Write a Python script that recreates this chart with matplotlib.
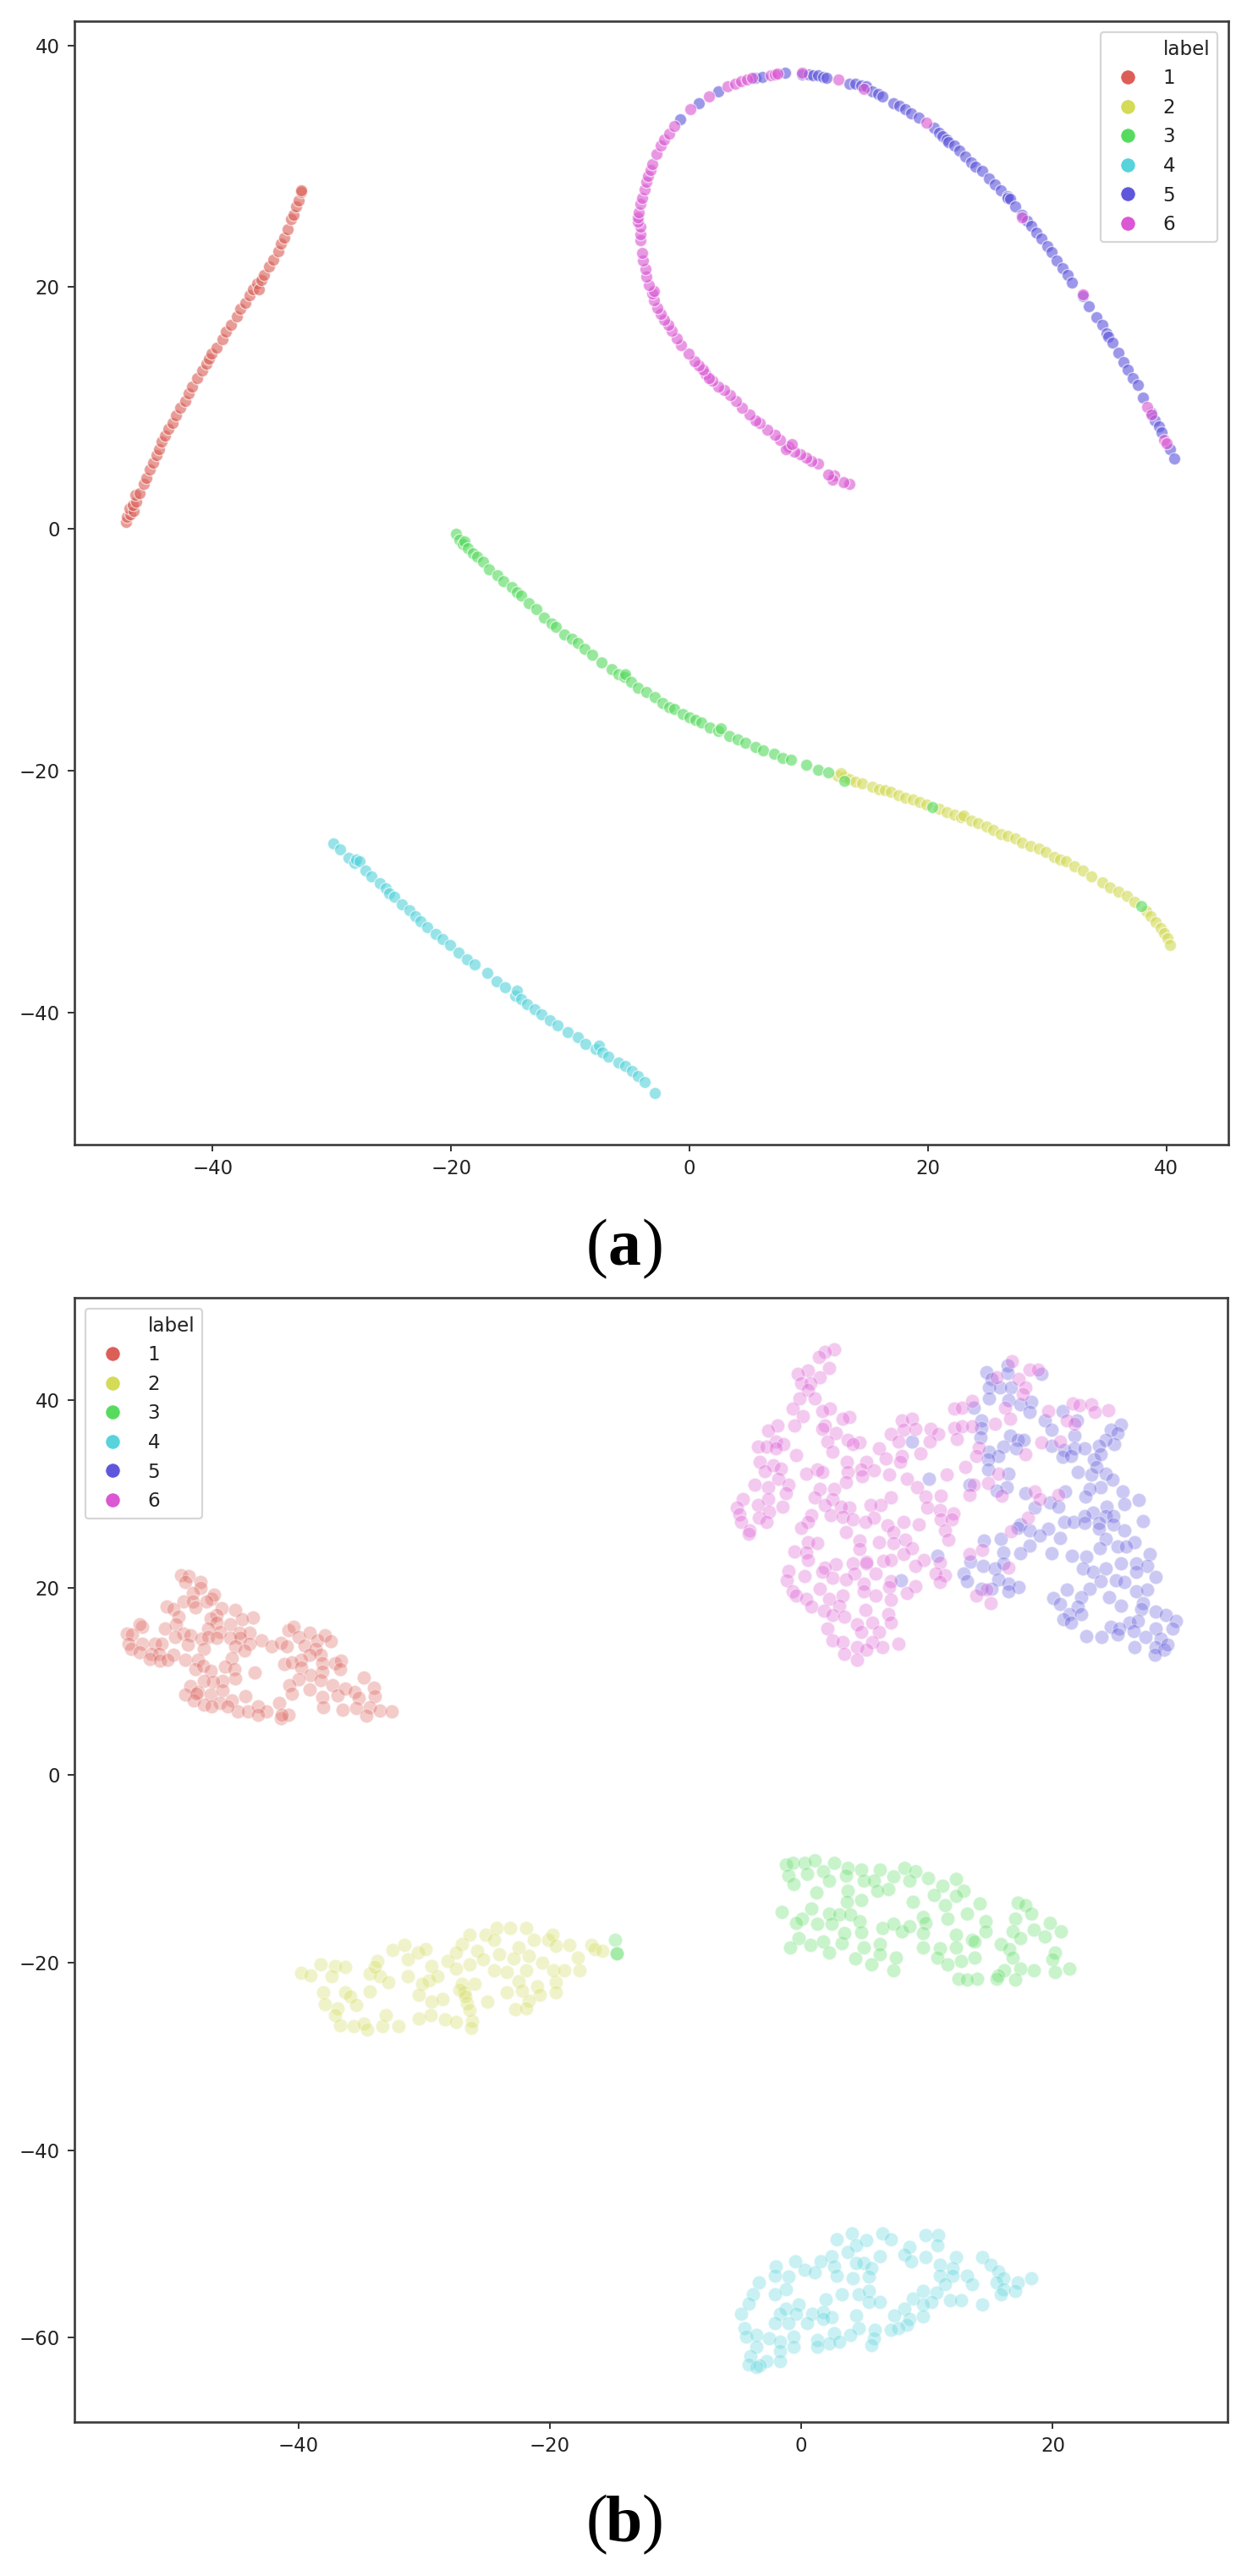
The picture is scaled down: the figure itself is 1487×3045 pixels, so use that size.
# t-SNE scatter panels
import matplotlib
matplotlib.use("Agg")
import matplotlib.pyplot as plt
from matplotlib.lines import Line2D
import numpy as np

labels = ["1", "2", "3", "4", "5", "6"]
colors = ["#db5f57", "#d3db57", "#57db5f", "#57d3db", "#5f57db", "#db57d3"]

# panel (a)
a1 = [(-47.3,0.6),(-47.2,1.0),(-46.9,1.2),(-47.0,1.7),(-46.6,1.5),(-46.7,2.0),(-46.4,2.3),(-46.5,2.8),(-46.1,3.0),
      (-45.8,3.7),(-45.6,4.2),(-45.3,4.9),(-45.0,5.5),(-44.7,6.1),(-44.5,6.6),(-44.3,7.2),(-44.0,7.7),(-43.7,8.3),
      (-43.4,8.8),(-43.1,9.4),(-42.7,10.0),(-42.3,10.6),(-42.0,11.2),(-41.7,11.8),(-41.3,12.5),(-40.9,13.1),
      (-40.5,13.7),(-40.3,14.1),(-40.1,14.5),(-39.7,15.0),(-39.2,15.7),(-38.9,16.3),(-38.5,16.9),(-38.0,17.6),
      (-37.7,18.2),(-37.3,18.7),(-36.9,19.3),(-36.6,19.8),(-36.3,20.3),(-36.1,19.8),(-35.9,20.6),(-35.7,21.0),
      (-35.3,21.7),(-34.9,22.3),(-34.5,23.0),(-34.3,23.6),(-34.0,24.1),(-33.7,24.8),(-33.4,25.6),(-33.2,26.0),
      (-33.0,26.7),(-32.8,27.2),(-32.6,27.9),(-32.6,28.0)]
a2 = [(12.4,-20.4),(13.0,-20.5),(12.7,-20.2),(13.4,-20.7),(13.9,-20.9),(14.5,-21.0),(15.3,-21.3),(15.9,-21.5),
      (16.4,-21.6),(16.9,-21.75),(17.5,-22.0),(18.1,-22.2),(18.7,-22.35),(19.3,-22.6),(19.9,-22.8),(20.9,-23.1),
      (21.6,-23.4),(22.2,-23.6),(22.8,-23.8),(23.0,-23.7),(23.6,-24.1),(24.2,-24.3),(24.9,-24.6),(25.5,-24.9),
      (26.1,-25.2),(26.7,-25.4),(27.3,-25.6),(27.9,-25.9),(28.6,-26.2),(29.3,-26.45),(29.9,-26.7),(30.6,-27.1),
      (31.1,-27.3),(31.6,-27.5),(32.3,-27.9),(33.0,-28.25),(33.7,-28.7),(34.6,-29.2),(35.3,-29.6),(36.0,-30.0),
      (36.7,-30.3),(37.3,-30.8),(38.3,-31.6),(38.7,-32.0),(39.1,-32.5),(39.5,-33.0),(39.8,-33.4),(40.1,-33.8),(40.3,-34.4)]
a3 = [(-19.6,-0.4),(-19.3,-0.9),(-19.0,-1.26),(-18.9,-1.0),(-18.6,-1.6),(-18.2,-2.0),(-17.8,-2.3),(-17.35,-2.7),
      (-16.8,-3.3),(-16.1,-3.8),(-15.6,-4.3),(-14.9,-4.8),(-14.5,-5.2),(-14.1,-5.5),(-13.5,-6.1),(-12.85,-6.6),
      (-12.2,-7.3),(-11.6,-7.8),(-11.2,-8.1),(-10.5,-8.7),(-9.9,-9.1),(-9.4,-9.45),(-8.8,-9.9),(-8.2,-10.4),
      (-7.4,-11.0),(-6.5,-11.6),(-6.0,-12.0),(-5.5,-12.2),(-5.4,-12.0),(-4.9,-12.6),(-4.3,-13.1),(-3.6,-13.5),
      (-2.95,-13.9),(-2.3,-14.4),(-1.7,-14.7),(-1.25,-14.9),(-0.6,-15.3),(0.0,-15.6),(0.5,-15.8),(1.0,-16.0),
      (1.7,-16.4),(2.4,-16.7),(2.6,-16.5),(3.3,-17.1),(4.05,-17.4),(4.7,-17.7),(5.5,-18.0),(6.2,-18.3),(7.1,-18.6),
      (7.8,-18.9),(8.5,-19.1),(9.8,-19.5),(10.8,-19.9),(11.6,-20.1),(13.0,-20.8),(20.35,-23.0),(37.9,-31.2)]
a4 = [(-29.85,-26.0),(-29.3,-26.5),(-28.6,-27.2),(-28.1,-27.6),(-28.0,-27.3),(-27.7,-27.5),(-27.2,-28.2),(-26.7,-28.7),
      (-26.0,-29.3),(-25.5,-29.7),(-25.2,-30.1),(-24.8,-30.4),(-24.15,-31.0),(-23.5,-31.55),(-23.0,-32.0),(-22.6,-32.4),
      (-22.0,-32.9),(-21.3,-33.5),(-20.7,-33.9),(-20.1,-34.4),(-19.4,-35.0),(-18.7,-35.6),(-18.0,-36.0),(-17.0,-36.7),
      (-16.2,-37.4),(-15.5,-37.9),(-14.65,-38.6),(-14.5,-38.2),(-14.1,-38.9),(-13.6,-39.3),(-13.0,-39.7),(-12.4,-40.1),
      (-11.7,-40.6),(-11.1,-41.05),(-10.25,-41.6),(-9.4,-42.05),(-8.7,-42.6),(-7.9,-43.0),(-7.6,-42.7),(-7.3,-43.3),
      (-6.8,-43.6),(-6.0,-44.1),(-5.4,-44.4),(-4.8,-44.8),(-4.3,-45.2),(-3.75,-45.7),(-2.95,-46.65)]
a5 = [(0.75,35.2),(-0.8,33.9),(2.4,36.2),(5.5,37.3),(6.1,37.4),(8.0,37.7),(9.4,37.6),(10.0,37.6),(10.35,37.55),(10.8,37.5),
      (11.2,37.4),(11.5,37.3),(13.4,36.85),(13.9,36.8),(14.4,36.7),(14.8,36.6),(15.3,36.2),(15.8,36.0),(16.2,35.8),
      (17.1,35.2),(17.6,35.0),(18.1,34.7),(18.6,34.4),(19.2,34.0),(20.5,33.2),(20.9,32.8),(21.2,32.5),(21.6,32.2),
      (21.7,32.0),(22.2,31.7),(22.65,31.3),(23.1,30.8),(23.6,30.3),(24.0,30.0),(24.55,29.6),(25.1,29.0),(25.6,28.5),
      (26.1,28.0),(26.7,27.5),(26.7,27.4),(26.9,27.3),(27.3,26.7),(27.9,26.0),(28.3,25.5),(28.7,25.1),(29.1,24.5),
      (29.5,24.0),(30.0,23.4),(30.35,22.9),(30.8,22.2),(31.3,21.6),(31.7,21.0),(32.1,20.4),(33.0,19.25),(33.5,18.4),
      (34.1,17.5),(34.6,16.9),(35.0,16.2),(35.1,15.9),(35.5,15.4),(36.0,14.6),(36.4,13.8),(36.75,13.2),(37.2,12.5),
      (37.6,11.9),(38.05,10.85),(38.75,9.6),(39.0,9.0),(39.35,8.5),(39.6,8.0),(40.3,6.6),(40.65,5.8)]
a6 = [(13.4,3.7),(12.9,3.9),(12.1,4.4),(12.0,4.1),(11.6,4.5),(10.8,5.4),(10.2,5.6),(9.8,5.9),(9.3,6.2),(8.8,6.4),(8.3,6.8),
      (8.1,6.6),(8.6,7.0),(7.6,7.4),(7.15,7.8),(6.5,8.2),(5.9,8.8),(5.5,9.0),(5.0,9.5),(4.4,10.0),(3.9,10.6),(3.4,11.1),
      (2.9,11.5),(2.4,11.8),(1.9,12.3),(1.35,12.8),(1.6,12.5),(1.1,13.2),(0.8,13.5),(0.4,13.9),(-0.1,14.5),(-0.7,15.2),
      (-1.1,15.8),(-1.5,16.4),(-1.8,16.9),(-2.1,17.3),(-2.4,17.8),(-2.7,18.3),(-3.0,18.9),(-3.15,19.5),(-3.0,19.7),
      (-3.4,20.2),(-3.6,20.9),(-3.7,21.5),(-3.9,22.2),(-3.95,22.8),(-4.1,23.9),(-4.15,24.4),(-4.1,25.0),(-4.3,25.4),
      (-4.3,25.8),(-4.25,26.2),(-4.1,26.9),(-4.0,27.4),(-3.8,28.1),(-3.65,28.7),(-3.5,29.2),(-3.3,29.7),(-3.15,30.2),
      (-2.8,31.0),(-2.4,31.7),(-2.1,32.2),(-1.7,32.7),(-1.3,33.3),(0.05,34.7),(1.6,35.8),(3.2,36.6),(3.8,36.8),(4.3,37.0),
      (4.8,37.2),(5.25,37.3),(6.8,37.5),(7.15,37.6),(7.4,37.65),(9.4,37.7),(12.5,37.2),(14.6,36.4),(19.9,33.6),(33.0,19.4),
      (27.9,25.8),(38.4,10.1),(38.75,9.5),(39.8,7.4),(40.0,7.1)]

# panel (b)
b1 = [(-49.3,21.3),(-48.7,21.25),(-48.96,20.6),(-47.8,20.6),(-47.8,20.0),(-48.4,19.4),(-49.1,18.5),(-48.4,18.5),(-48.2,17.9),
      (-46.9,18.8),(-46.7,19.2),(-47.3,18.5),(-50.5,18.0),(-49.9,17.7),(-49.5,16.9),(-46.1,17.8),(-45.0,17.6),(-43.6,16.8),
      (-44.5,16.6),(-46.5,17.1),(-47.0,16.7),(-46.5,16.3),(-45.4,16.1),(-49.7,16.1),(-52.4,15.8),(-52.6,16.1),(-50.6,15.6),
      (-47.2,15.6),(-46.2,15.3),(-53.6,15.1),(-53.2,15.0),(-49.1,15.1),(-49.8,14.7),(-48.6,14.9),(-44.7,15.2),(-43.9,15.2),
      (-45.4,14.6),(-47.7,14.5),(-47.2,14.7),(-46.5,14.6),(-44.6,14.6),(-53.5,14.0),(-53.3,13.5),(-52.4,14.0),(-51.4,14.0),
      (-50.9,14.0),(-48.8,13.9),(-43.9,14.0),(-47.5,13.5),(-45.0,13.7),(-44.3,13.3),(-52.6,13.1),(-51.7,12.9),(-51.1,12.9),
      (-49.9,12.8),(-49.0,12.3),(-51.8,12.4),(-51.0,12.2),(-50.4,12.3),(-45.3,12.5),(-48.0,12.3),(-42.9,14.4),(-42.1,13.7),
      (-41.4,14.1),(-40.8,15.4),(-40.4,15.8),(-40.0,14.7),(-40.9,13.7),(-39.5,13.8),(-39.1,15.2),(-38.5,14.4),(-37.9,14.9),
      (-37.4,14.3),(-38.6,13.5),(-38.2,12.8),(-39.1,12.8),(-39.8,12.3),(-41.1,11.8),(-40.5,12.0),(-39.8,11.5),(-38.1,11.9),
      (-37.1,11.9),(-36.6,12.2),(-36.7,11.3),(-38.1,11.0),(-39.0,10.7),(-40.0,10.2),(-40.7,9.6),(-40.5,8.7),(-39.1,9.1),
      (-38.2,10.1),(-37.3,9.6),(-38.1,8.3),(-38.0,7.2),(-36.9,8.5),(-36.5,7.0),(-36.3,9.2),(-35.5,8.9),(-34.8,10.4),(-34.0,9.3),
      (-35.2,8.25),(-33.9,8.4),(-35.4,7.1),(-34.3,7.2),(-34.6,6.3),(-33.5,6.9),(-32.6,6.75),(-48.2,11.3),(-47.6,11.7),(-47.0,11.1),
      (-45.8,11.6),(-45.1,11.3),(-45.0,10.3),(-43.5,10.9),(-46.0,10.05),(-46.8,9.9),(-47.5,10.05),(-48.6,9.45),(-48.0,8.9),
      (-49.0,8.55),(-48.3,8.0),(-47.0,8.55),(-46.0,9.0),(-47.5,7.5),(-46.2,7.7),(-45.3,8.0),(-44.2,8.4),(-44.8,6.75),(-44.0,6.75),
      (-43.2,7.3),(-42.5,6.8),(-41.5,7.65),(-43.2,6.45),(-41.4,6.1),(-40.8,6.45),(-46.9,7.35),(-45.6,7.35),(-48.1,8.7),(-41.3,6.4)]
b2 = [(-39.8,-21.1),(-39.05,-21.35),(-38.2,-20.2),(-37.1,-20.4),(-36.25,-20.5),(-37.35,-21.5),(-34.3,-21.15),(-33.7,-19.85),
      (-33.5,-21.5),(-32.85,-22.1),(-32.5,-18.7),(-31.55,-18.1),(-31.3,-19.65),(-31.3,-21.5),(-38.0,-23.2),(-36.25,-23.2),
      (-34.35,-23.1),(-35.85,-23.6),(-37.9,-24.45),(-36.9,-24.9),(-35.4,-24.5),(-37.1,-25.65),(-36.7,-26.7),(-35.6,-26.8),
      (-34.8,-26.5),(-34.5,-27.15),(-33.3,-26.8),(-33.05,-25.65),(-32.05,-26.8),(-30.5,-18.9),(-29.85,-18.55),(-29.4,-20.4),
      (-28.1,-19.85),(-27.0,-18.0),(-26.4,-17.0),(-25.1,-17.05),(-24.25,-16.3),(-23.15,-16.35),(-21.9,-16.35),(-27.45,-18.9),
      (-25.75,-18.75),(-24.45,-17.6),(-21.25,-17.6),(-20.15,-17.6),(-19.8,-17.05),(-22.5,-18.35),(-24.0,-19.1),(-25.3,-19.65),
      (-26.4,-20.2),(-27.45,-20.6),(-29.6,-21.9),(-28.95,-21.5),(-30.15,-22.3),(-30.45,-23.4),(-29.4,-24.2),(-28.55,-23.85),
      (-27.0,-22.3),(-25.95,-22.3),(-26.8,-23.2),(-26.6,-24.3),(-25.0,-24.15),(-30.45,-26.0),(-29.5,-25.65),(-28.3,-26.1),
      (-27.45,-26.3),(-26.15,-26.2),(-26.25,-26.95),(-26.4,-25.1),(-24.45,-20.8),(-23.4,-21.0),(-21.9,-20.8),(-22.5,-22.0),
      (-23.4,-23.15),(-22.2,-23.0),(-21.0,-22.5),(-19.5,-22.1),(-19.75,-20.8),(-18.85,-20.8),(-17.65,-20.8),(-20.6,-20.0),
      (-19.5,-18.25),(-18.45,-18.15),(-17.8,-19.5),(-16.7,-18.15),(-16.4,-18.55),(-15.85,-18.75),(-19.5,-23.2),(-20.8,-23.4),
      (-21.65,-24.1),(-22.75,-25.0),(-21.9,-24.9),(-27.2,-22.9),(-26.7,-23.6),(-22.9,-19.6),(-21.7,-19.3),(-33.9,-20.5)]
b3 = [(-1.25,-9.55),(-0.65,-9.35),(0.25,-9.35),(1.1,-9.1),(2.6,-9.35),(-1.05,-10.7),(0.45,-10.5),(1.75,-10.3),(-0.6,-11.6),
      (2.2,-11.25),(3.7,-9.95),(4.75,-10.1),(3.55,-10.7),(5.0,-11.25),(6.25,-10.1),(5.8,-11.25),(7.35,-10.85),(8.2,-9.95),
      (9.05,-10.3),(8.6,-11.25),(10.1,-11.0),(12.3,-11.05),(12.9,-12.35),(11.2,-11.8),(6.9,-12.2),(6.05,-12.35),(3.7,-12.35),
      (1.2,-12.55),(4.75,-13.3),(3.6,-13.5),(8.85,-13.5),(10.55,-12.75),(12.3,-12.9),(11.45,-13.85),(14.2,-13.7),(17.2,-13.6),
      (17.85,-13.85),(-1.55,-14.6),(0.8,-14.25),(2.2,-14.8),(3.05,-14.9),(3.9,-14.9),(0.05,-15.35),(-0.4,-15.75),(1.25,-15.85),
      (2.4,-15.9),(4.65,-15.55),(9.7,-15.15),(11.65,-15.35),(13.15,-14.8),(14.65,-15.55),(17.0,-15.35),(18.3,-14.8),(19.8,-15.75),
      (-0.2,-17.4),(-0.85,-18.35),(0.7,-18.15),(1.75,-17.8),(2.2,-18.9),(3.25,-17.9),(3.45,-16.85),(4.75,-16.75),(6.25,-18.0),
      (6.45,-16.3),(7.35,-15.9),(7.97,-16.65),(8.6,-16.1),(9.9,-15.75),(9.7,-16.85),(12.3,-17.05),(13.55,-17.6),(14.65,-16.65),
      (16.8,-16.65),(18.5,-16.5),(20.65,-16.65),(15.9,-18.0),(17.4,-17.4),(19.35,-17.25),(5.0,-18.35),(6.25,-19.1),(9.7,-18.35),
      (11.0,-18.45),(12.3,-18.35),(13.8,-17.8),(16.55,-18.55),(20.2,-18.9),(4.3,-19.6),(5.6,-20.2),(7.35,-20.8),(7.55,-19.5),
      (10.8,-19.5),(11.65,-20.2),(12.7,-19.85),(13.8,-19.5),(16.8,-19.5),(20.0,-19.65),(21.3,-20.6),(20.2,-21.0),(18.5,-20.8),
      (17.4,-20.6),(16.15,-20.8),(15.7,-21.35),(17.0,-21.85),(15.5,-21.7),(12.5,-21.7),(14.0,-21.7),(13.15,-21.85),(-14.8,-17.6),
      (-14.7,-19.0),(-14.7,-19.0)]
b4 = [(4.05,-48.85),(2.8,-49.5),(6.45,-48.85),(7.1,-49.5),(9.9,-49.05),(10.9,-49.05),(5.2,-49.6),(10.8,-50.15),(4.35,-50.15),
      (3.7,-50.9),(6.25,-51.3),(8.6,-50.35),(8.2,-51.1),(4.95,-52.0),(2.4,-51.3),(1.55,-51.85),(-0.5,-51.85),(-2.0,-52.4),(0.25,-52.8),
      (2.6,-52.4),(4.35,-52.0),(5.6,-52.6),(8.75,-51.9),(9.9,-51.45),(12.3,-51.45),(14.4,-51.45),(11.0,-52.2),(12.05,-52.6),
      (15.05,-52.2),(15.7,-52.95),(18.3,-53.7),(17.2,-54.1),(13.15,-53.35),(11.0,-53.35),(12.05,-53.35),(16.1,-53.7),(15.5,-54.1),
      (16.1,-54.85),(17.0,-55.0),(15.9,-55.4),(13.55,-54.25),(11.4,-54.25),(1.1,-53.0),(2.85,-53.35),(4.1,-53.7),(5.4,-53.5),
      (-1.05,-53.5),(-2.1,-53.35),(-3.4,-54.1),(-1.25,-54.85),(-2.1,-55.4),(-3.85,-55.4),(3.25,-55.4),(4.55,-55.4),(5.4,-55.0),
      (5.4,-56.15),(6.25,-56.15),(1.95,-55.95),(8.85,-55.8),(9.7,-55.0),(10.75,-55.2),(10.35,-56.15),(9.7,-56.5),(11.85,-56.0),
      (12.7,-56.0),(14.4,-56.5),(8.2,-56.9),(-4.8,-57.45),(-4.15,-56.35),(-1.25,-56.9),(-0.2,-56.5),(-0.4,-57.45),(-1.7,-57.45),
      (0.9,-57.45),(1.75,-57.25),(2.4,-57.85),(4.35,-57.65),(7.4,-57.65),(-2.1,-58.4),(-1.05,-58.4),(0.45,-58.4),(1.75,-58.0),
      (8.6,-58.0),(9.7,-57.75),(8.4,-58.6),(7.75,-59.0),(4.55,-59.0),(5.85,-59.15),(7.1,-59.15),(-4.5,-58.95),(2.6,-59.5),(3.9,-59.7),
      (5.75,-60.1),(-4.4,-59.9),(-3.6,-59.7),(-2.55,-60.1),(-1.7,-60.45),(-0.6,-59.9),(1.3,-60.25),(2.2,-60.65),(3.05,-60.45),
      (5.6,-60.8),(1.3,-61.0),(-3.6,-61.0),(-1.7,-61.4),(-0.6,-61.0),(-4.05,-62.0),(-2.75,-62.5),(-1.7,-62.5),(-4.15,-62.9),
      (-3.3,-63.0),(-3.6,-63.1)]
b5 = [(16.4,43.7),(14.7,43.0),(16.4,42.9),(15.1,42.2),(14.95,41.3),(15.8,41.3),(16.65,41.3),(19.1,42.8),(14.9,40.2),(16.5,40.0),
      (17.45,39.5),(18.3,39.8),(18.15,38.75),(13.75,39.2),(14.3,37.8),(14.3,37.0),(14.25,36.05),(20.75,38.85),(19.4,37.8),(19.9,36.85),
      (21.95,37.8),(25.4,37.4),(24.6,36.85),(25.15,36.5),(24.9,35.3),(21.7,36.2),(19.9,35.1),(16.6,36.2),(17.2,35.75),(17.7,35.75),
      (8.8,35.6),(24.2,35.7),(23.65,35.1),(16.1,35.0),(14.95,34.5),(15.65,34.0),(17.05,34.8),(14.85,33.7),(20.9,34.65),(21.7,34.8),
      (22.55,34.8),(20.75,33.9),(23.25,33.7),(23.8,34.2),(21.45,34.0),(14.85,32.6),(16.5,32.1),(22.0,32.3),(23.1,32.0),(23.5,32.9),
      (24.2,32.1),(24.75,31.5),(10.15,31.6),(13.35,31.0),(16.35,30.7),(15.5,30.35),(17.85,30.1),(21.0,30.2),(23.8,30.7),(22.95,30.5),
      (22.6,29.7),(25.55,30.2),(19.8,29.1),(18.55,28.5),(20.45,28.6),(26.85,29.35),(25.7,28.9),(24.3,28.6),(23.2,28.0),(24.2,27.65),
      (22.55,27.65),(24.85,27.65),(20.9,27.0),(21.65,27.0),(22.5,26.9),(23.7,26.9),(24.8,26.7),(27.15,27.1),(17.45,26.7),(17.2,26.4),
      (19.65,26.25),(18.15,26.1),(18.95,25.55),(23.65,26.25),(25.7,26.1),(24.2,25.15),(15.9,25.15),(14.55,25.05),(20.6,25.3),(26.5,24.8),
      (25.15,24.35),(25.85,24.35),(23.75,24.2),(18.15,24.5),(17.45,23.65),(19.9,23.65),(27.7,23.55),(10.85,23.4),(21.55,23.35),(22.65,23.25),
      (16.1,23.7),(13.45,22.75),(14.45,22.3),(26.65,22.6),(25.4,22.6),(15.4,22.0),(16.1,22.6),(22.4,22.0),(23.2,21.65),(24.2,22.0),
      (27.5,22.3),(12.9,21.5),(26.65,21.65),(28.15,21.1),(7.95,20.8),(13.2,20.7),(15.65,20.85),(25.0,20.8),(23.8,20.7),(16.5,20.4),
      (25.7,20.6),(22.95,19.9),(14.3,19.9),(15.1,19.85),(17.3,20.05),(16.5,19.6),(26.65,19.6),(27.5,19.75),(21.15,19.75),(20.05,18.9),
      (22.25,18.95),(24.45,18.95),(20.6,18.2),(22.0,18.0),(27.2,18.3),(25.4,18.1),(21.3,17.2),(27.05,17.7),(28.15,17.45),(22.25,17.2),
      (20.85,16.6),(21.45,16.3),(29.0,17.05),(29.8,16.4),(26.1,16.25),(26.8,16.4),(24.6,15.8),(25.3,15.65),(28.15,15.65),(29.55,15.65),
      (26.4,15.35),(25.15,15.0),(27.35,14.7),(22.65,14.85),(23.9,14.7),(28.6,14.5),(26.5,13.65),(28.15,13.6),(28.85,13.4),(29.1,13.9),(28.1,12.8)]
b6 = [(2.6,45.4),(1.9,45.1),(1.4,44.6),(2.2,43.4),(0.55,43.1),(-0.3,42.8),(1.5,42.4),(0.0,41.8),(0.7,41.8),(0.5,41.1),(1.1,40.2),
      (-0.15,40.2),(-0.7,39.1),(2.3,39.1),(1.65,38.8),(0.15,38.3),(3.85,38.2),(3.3,38.0),(1.9,37.3),(-0.55,37.3),(-1.9,37.3),(-2.6,36.7),
      (1.65,36.9),(2.75,36.5),(8.0,37.8),(8.8,38.0),(8.1,36.8),(9.1,36.9),(10.3,36.9),(7.15,36.4),(10.9,36.4),(7.7,35.6),(10.2,35.6),
      (-2.05,35.6),(-1.4,35.3),(-3.45,35.0),(-2.75,35.0),(-2.05,34.8),(2.05,35.6),(3.7,35.7),(4.65,35.5),(2.45,34.5),(4.1,35.3),(-0.4,34.1),
      (6.2,34.8),(6.75,33.8),(8.0,34.0),(9.5,34.3),(7.85,33.4),(-3.3,33.4),(-2.2,33.0),(-2.9,32.4),(-1.65,32.7),(3.6,33.4),(5.2,33.4),
      (4.8,32.6),(5.8,32.5),(1.25,32.6),(0.4,32.1),(1.65,32.3),(3.7,32.3),(4.85,31.9),(7.0,32.0),(-1.8,31.6),(3.55,31.2),(8.4,31.6),
      (-3.7,31.0),(-2.6,30.7),(-1.0,31.0),(1.5,30.5),(2.6,30.5),(9.2,30.7),(-1.25,30.1),(-4.65,29.4),(-2.6,29.4),(1.1,29.6),(2.45,29.4),
      (7.15,29.6),(9.9,29.7),(11.1,29.8),(6.3,28.8),(5.5,28.8),(-5.1,28.5),(-3.45,28.8),(-1.5,28.6),(1.9,28.8),(3.85,28.5),(3.15,28.6),
      (10.0,28.5),(-4.9,27.8),(-3.35,27.4),(-2.55,28.1),(11.0,28.3),(2.35,27.7),(3.3,27.5),(4.1,27.3),(5.75,27.4),(0.8,27.7),(12.1,27.9),
      (-4.8,27.0),(-2.75,27.0),(0.55,27.0),(5.1,27.0),(8.1,27.0),(9.35,26.7),(11.1,27.3),(11.95,27.3),(6.85,26.6),(0.0,26.4),(-4.1,26.1),
      (3.55,25.9),(7.3,25.9),(11.4,26.1),(-4.2,25.7),(4.65,25.0),(6.2,24.8),(7.3,24.7),(8.25,25.1),(11.7,25.1),(0.55,24.8),(1.25,24.7),
      (-0.55,23.8),(0.4,23.7),(4.65,24.1),(8.8,24.2),(8.1,23.55),(0.55,22.9),(6.55,22.85),(7.15,22.9),(5.2,22.75),(4.1,22.6),(9.75,22.9),
      (9.1,22.3),(2.75,22.45),(1.9,22.1),(-1.0,21.8),(1.65,21.65),(4.25,21.5),(5.2,22.6),(5.9,21.45),(11.0,22.7),(13.35,23.55),(14.4,24.0),
      (16.5,22.15),(11.4,21.35),(10.7,21.45),(0.25,21.25),(2.45,21.0),(-1.15,20.8),(3.55,20.85),(11.05,20.55),(4.95,20.4),(7.15,20.7),
      (9.05,20.1),(7.0,20.05),(1.5,19.9),(-0.7,19.6),(8.4,19.4),(4.95,19.6),(14.7,19.75),(-0.4,19.1),(0.4,18.8),(3.3,19.1),(2.2,18.8),
      (13.9,19.1),(15.05,18.3),(5.9,19.1),(7.15,18.65),(0.8,18.0),(3.0,18.05),(1.8,17.5),(5.1,17.6),(6.9,17.2),(2.45,17.05),(3.45,16.9),
      (7.15,16.3),(4.4,16.1),(5.65,16.3),(2.05,15.65),(4.8,15.3),(6.2,15.3),(2.45,14.4),(3.3,14.2),(5.65,14.2),(7.7,14.0),(4.4,13.6),
      (6.45,13.6),(5.2,13.4),(3.45,12.9),(4.45,12.25),(16.75,44.1),(18.15,43.2),(17.3,42.2),(15.5,42.4),(17.85,41.3),(18.85,43.2),
      (17.6,40.65),(16.2,39.2),(16.6,38.0),(12.2,39.1),(12.8,39.2),(13.6,39.9),(19.65,38.85),(21.6,39.6),(22.1,39.4),(23.1,39.5),(23.35,38.75),
      (24.4,38.9),(21.15,37.8),(21.7,37.5),(15.4,37.5),(12.2,37.0),(12.8,37.2),(12.4,35.8),(13.6,37.2),(19.1,35.5),(20.6,35.6),(14.15,34.95),
      (13.9,34.0),(17.85,34.25),(13.05,32.9),(15.65,32.1),(11.55,32.0),(14.85,31.1),(13.75,31.0),(13.35,29.9),(15.95,29.8),(18.55,30.2),
      (18.95,29.4),(20.45,29.9),(18.0,27.45),(16.65,26.0)]

panel_a = [a1, a2, a3, a4, a5, a6]
panel_b = [b1, b2, b3, b4, b5, b6]
xticks_a = [-40, -20, 0, 20, 40]
yticks_a = [-40, -20, 0, 20, 40]
xticks_b = [-40, -20, 0, 20]
yticks_b = [-60, -40, -20, 0, 20, 40]

W, H = 1487, 3045
fig = plt.figure(figsize=(W / 100, H / 100), dpi=100)


def make_axes(left, top, right, bottom):
    return fig.add_axes([left / W, 1 - bottom / H, (right - left) / W, (bottom - top) / H])


def draw_panel(ax, groups, alpha, size, xlim, ylim, xticks, yticks, loc):
    for pts, col in zip(groups, colors):
        xy = np.array(pts)
        ax.scatter(xy[:, 0], xy[:, 1], s=size, color=col, alpha=alpha, edgecolors="white", linewidths=1.0)
    ax.set_xlim(xlim)
    ax.set_ylim(ylim)
    ax.set_xticks(xticks)
    ax.set_yticks(yticks)
    ax.tick_params(labelsize=16.5, length=6, width=1.3, pad=6.5, colors="#222222")
    for s in ax.spines.values():
        s.set_linewidth(1.9)
        s.set_color("#3a3a3a")
    handles = [Line2D([], [], linestyle="none")]
    for col in colors:
        handles.append(Line2D([], [], linestyle="none", marker="o", markersize=12.5, markerfacecolor=col,
                              markeredgecolor="white", markeredgewidth=0.6))
    leg = ax.legend(handles, ["label"] + labels, loc=loc, fontsize=16.6, borderaxespad=0.55)
    leg.get_frame().set_linewidth(1.6)
    for t in leg.get_texts():
        t.set_color("#222222")


ax_a = make_axes(88, 25, 1452, 1353)
draw_panel(ax_a, panel_a, 0.62, 105, (-51.6, 45.2), (-50.9, 42.0), xticks_a, yticks_a, "upper right")
ax_b = make_axes(88, 1534, 1451, 2863)
draw_panel(ax_b, panel_b, 0.32, 140, (-57.8, 33.9), (-69.0, 50.9), xticks_b, yticks_b, "upper left")


def panel_letter(letter, y_base):
    # bold letter between plain parentheses
    y = 1 - y_base / H
    fig.text(738 / W, y, letter, family="Liberation Serif", weight="bold", fontsize=56, ha="center", va="baseline")
    fig.text(718 / W, y, "(", family="Liberation Serif", fontsize=56, ha="right", va="baseline")
    fig.text(758 / W, y, ")", family="Liberation Serif", fontsize=56, ha="left", va="baseline")


panel_letter("a", 1495)
panel_letter("b", 3003)

fig.savefig("out.png", dpi=100)
